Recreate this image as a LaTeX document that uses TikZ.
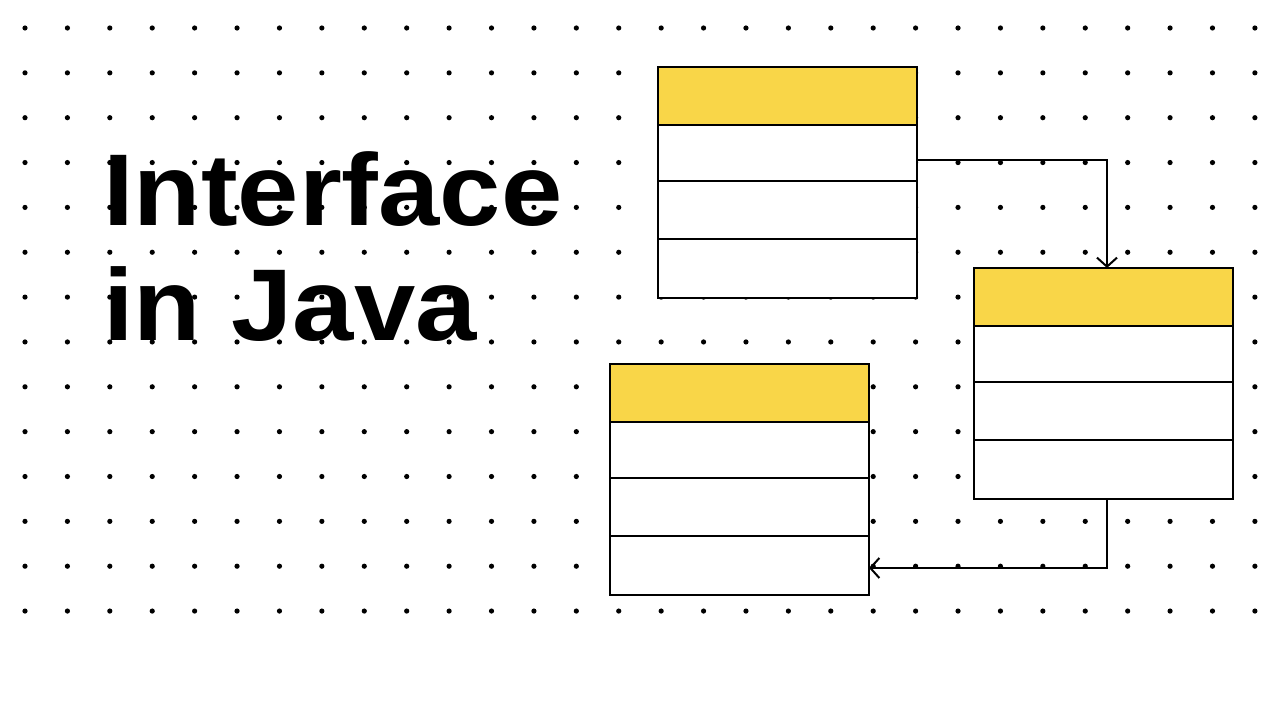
\documentclass[tikz,border=0pt]{standalone}
\usepackage{fontspec}
\setmainfont{Liberation Sans}
\usetikzlibrary{arrows.meta}
\definecolor{hdr}{HTML}{F9D648}
\begin{document}
\begin{tikzpicture}[x=1pt,y=-1pt,
  ln/.style={line width=2pt,black},
  arr/.style={ln,-{Straight Barb[length=9pt,width=20pt,line width=2pt]}},
  dot/.style={fill=black,draw=none}]
\useasboundingbox (0,0) rectangle (1280,720);
\fill[white] (0,0) rectangle (1280,720);
\foreach \i in {0,...,29}{\foreach \j in {0,...,13}{\fill (25+42.41*\i,28+44.85*\j) circle (2.6);}}
\newcommand{\umlbox}[3]{%
  \fill[white] (#2,#3) rectangle ++(259,231);
  \fill[hdr] (#2,#3) rectangle ++(259,58);
  \draw[ln] (#2,#3) rectangle ++(259,231);
  \draw[ln] (#2,#3+58) -- ++(259,0);
  \draw[ln] (#2,#3+114) -- ++(259,0);
  \draw[ln] (#2,#3+172) -- ++(259,0);
  \coordinate (#1) at (#2,#3);}
\umlbox{a}{658}{67}
\umlbox{b}{974}{268}
\umlbox{c}{610}{364}
\draw[arr] ([shift={(259,93)}]a) -| ([xshift=133]b);
\draw[arr] ([shift={(133,231)}]b) |- ([shift={(259,204)}]c);
\node[anchor=base west,inner sep=0,xscale=1.08,font=\fontsize{102}{102}\bfseries] (t1) at (103,225) {Interface};
\node[anchor=base west,inner sep=0,xscale=1.08,font=\fontsize{102}{102}\bfseries] (t2) at (103,340) {in Java};
\end{tikzpicture}
\end{document}
